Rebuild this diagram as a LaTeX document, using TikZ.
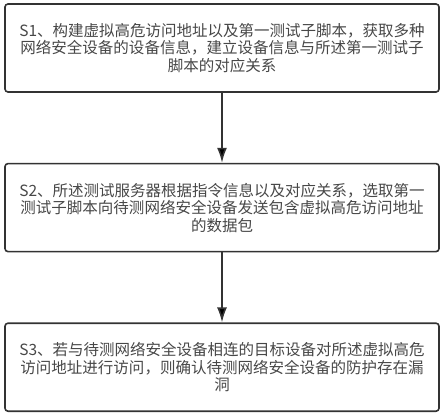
\documentclass[tikz,border=0pt]{standalone}
\usepackage{fontspec}
\setmainfont{Noto Sans CJK SC}
\usetikzlibrary{arrows.meta,positioning}

\begin{document}
\begin{tikzpicture}[->,>={Latex[length=15pt,width=10pt]},node distance=70pt,
step node/.style={rectangle,rounded corners=3pt,draw=black!80,line width=1.6pt,minimum width=434pt,minimum height=88pt,text width=420pt,align=center,font=\fontsize{15.5pt}{17.5pt}\selectfont,text=black!72}]
\useasboundingbox (0,0) rectangle (444pt,-413pt);
\node[step node] (s1) at (222pt,-48pt) {S1、构建虚拟高危访问地址以及第一测试子脚本，获取多种\\网络安全设备的设备信息，建立设备信息与所述第一测试子\\脚本的对应关系};
\node[step node] (s2) [below=of s1] {S2、所述测试服务器根据指令信息以及对应关系，选取第一\\测试子脚本向待测网络安全设备发送包含虚拟高危访问地址\\的数据包};
\node[step node] (s3) [below=of s2] {S3、若与待测网络安全设备相连的目标设备对所述虚拟高危\\访问地址进行访问，则确认待测网络安全设备的防护存在漏\\洞};
\path[line width=1.6pt,draw=black!80]
(s1) edge (s2)
(s2) edge (s3);
\end{tikzpicture}
\end{document}
